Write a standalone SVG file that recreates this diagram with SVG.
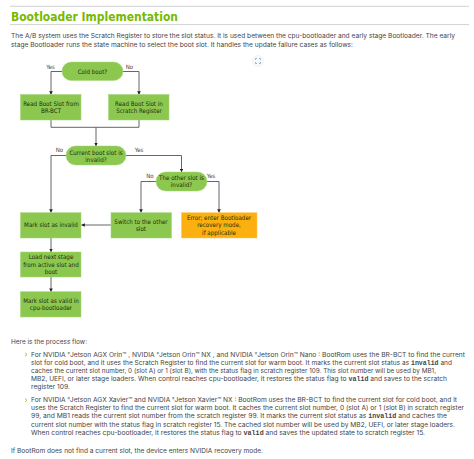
<svg xmlns="http://www.w3.org/2000/svg" width="474" height="459" viewBox="0 0 474 459">
<style>
.b{font-family:"Inter","Noto Sans","Liberation Sans",sans-serif;font-size:6.6px;fill:#444}
.m{font-family:"Liberation Mono","DejaVu Sans Mono",monospace;font-weight:700;font-size:6.6px}
.s{font-size:3.6px}
.n{font-family:"DejaVu Sans","Liberation Sans",sans-serif;font-stretch:condensed;font-size:6.2px;fill:#1c2e0c;text-anchor:middle}
.l{font-family:"DejaVu Sans","Liberation Sans",sans-serif;font-stretch:condensed;font-size:6px;fill:#444;text-anchor:middle}
.g{fill:#8cc850;stroke:#a4d678;stroke-width:.5}
.o{fill:#fbb00f;stroke:#fdc860;stroke-width:.5}
.c{fill:none;stroke:#555;stroke-width:.9}
</style>
<defs>
<marker id="a" viewBox="0 0 6 6" refX="5.5" refY="3" markerWidth="3.6" markerHeight="3.6" markerUnits="userSpaceOnUse" orient="auto"><path d="M0 0L6 3L0 6z" fill="#222"/></marker>
</defs>
<rect width="474" height="459" fill="#fff"/>
<path d="M10 6.3H469M10 24.6H469" stroke="#c6c6c6" stroke-width=".8" fill="none"/>
<text x="11" y="20.8" font-family="DejaVu Sans,Liberation Sans,sans-serif" font-weight="700" font-size="12" fill="#76b900" textLength="167" lengthAdjust="spacingAndGlyphs">Bootloader Implementation</text>
<text class="b" x="11" y="38" textLength="444" lengthAdjust="spacingAndGlyphs">The A/B system uses the Scratch Register to store the slot status. It is used between the cpu-bootloader and early stage Bootloader. The early</text>
<text class="b" x="11" y="47" textLength="342" lengthAdjust="spacingAndGlyphs">stage Bootloader runs the state machine to select the boot slot. It handles the update failure cases as follows:</text>

<g id="connectors">
<path class="c" marker-end="url(#a)" d="M62 71.5H51V94.5"/>
<path class="c" marker-end="url(#a)" d="M123 71.5H139V94.5"/>
<path class="c" d="M51 120V127.3H139V120"/>
<path class="c" marker-end="url(#a)" d="M96 127.3V146"/>
<path class="c" marker-end="url(#a)" d="M66 155.5H51V212.5"/>
<path class="c" marker-end="url(#a)" d="M126 155.5H181.5V172"/>
<path class="c" marker-end="url(#a)" d="M156 181.5H141V212.5"/>
<path class="c" marker-end="url(#a)" d="M207 181.5H219V212.5"/>
<path class="c" marker-end="url(#a)" d="M111 225H81.5"/>
<path class="c" marker-end="url(#a)" d="M51 238V252"/>
<path class="c" marker-end="url(#a)" d="M51 277V291.7"/>
<text class="l" x="50.500" y="68.500">Yes</text>
<text class="l" x="129.500" y="68.500">No</text>
<text class="l" x="59.500" y="152">No</text>
<text class="l" x="139" y="152">Yes</text>
<text class="l" x="150" y="178">No</text>
<text class="l" x="211" y="178">Yes</text>
</g>

<g id="cold-boot"><rect class="g" x="62" y="62" width="61" height="18.500" rx="9.250"/><text class="n" x="92.500" y="73.500">Cold boot?</text></g>
<g id="read-brbct"><rect class="g" x="20.500" y="94.500" width="60.500" height="25.500"/><text class="n" x="51" y="105.500">Read Boot Slot from</text><text class="n" x="51" y="113">BR-BCT</text></g>
<g id="read-scratch"><rect class="g" x="108.500" y="94.500" width="60.500" height="25.500"/><text class="n" x="139" y="105.500">Read Boot Slot in</text><text class="n" x="139" y="113">Scratch Register</text></g>
<g id="current-invalid"><rect class="g" x="66" y="146" width="60" height="19" rx="9.500"/><text class="n" x="96" y="154.500">Current boot slot is</text><text class="n" x="96" y="161.800">invalid?</text></g>
<g id="other-invalid"><rect class="g" x="156" y="172" width="51" height="19" rx="9.500"/><text class="n" x="181.500" y="179.700">The other slot is</text><text class="n" x="181.500" y="187.300">invalid?</text></g>
<g id="mark-invalid"><rect class="g" x="20.500" y="212.700" width="60.500" height="25.300"/><text class="n" x="51" y="227">Mark slot as invalid</text></g>
<g id="switch-slot"><rect class="g" x="111" y="212.700" width="60.500" height="25.300"/><text class="n" x="141" y="223.500">Switch to the other</text><text class="n" x="141" y="231">slot</text></g>
<g id="error"><rect class="o" x="181.500" y="212.700" width="75.500" height="25.300"/><text class="n" x="219" y="219.800">Error; enter Bootloader</text><text class="n" x="219" y="227">recovery mode,</text><text class="n" x="219" y="234.500">if applicable</text></g>
<g id="load-next"><rect class="g" x="20.500" y="252" width="60.500" height="25"/><text class="n" x="51" y="259.200">Load next stage</text><text class="n" x="51" y="266.500">from active slot and</text><text class="n" x="51" y="274">boot</text></g>
<g id="mark-valid"><rect class="g" x="20.500" y="291.700" width="60.500" height="25.300"/><text class="n" x="51" y="302.500">Mark slot as valid in</text><text class="n" x="51" y="310">cpu-bootloader</text></g>

<g fill="none" stroke="#7fa6c8" stroke-width=".8">
<circle cx="258" cy="61" r="5.500" stroke="#eef2f6" fill="#f7f9fb"/>
<path d="M255.500 60V58.500H257M259 58.500H260.500V60M260.500 62V63.500H259M257 63.500H255.500V62"/>
</g>

<text class="b" x="11" y="344" textLength="76" lengthAdjust="spacingAndGlyphs">Here is the process flow:</text>

<path d="M25 352.800L27 354.500L25 356.200M25 398.500L27 400.200L25 401.900" fill="none" stroke="#76b900" stroke-width=".7"/>
<text class="b" x="31" y="356.500" textLength="434" lengthAdjust="spacingAndGlyphs">For NVIDIA <tspan class="s" dy="-2">®</tspan><tspan dy="2">Jetson AGX Orin™ , NVIDIA </tspan><tspan class="s" dy="-2">®</tspan><tspan dy="2">Jetson Orin™ NX , and NVIDIA </tspan><tspan class="s" dy="-2">®</tspan><tspan dy="2">Jetson Orin™ Nano : BootRom uses the BR-BCT to find the current</tspan></text>
<text class="b" x="31" y="365" textLength="421" lengthAdjust="spacingAndGlyphs">slot for cold boot, and it uses the Scratch Register to find the current slot for warm boot. It marks the current slot status as <tspan class="m">invalid</tspan> and</text>
<text class="b" x="31" y="373" textLength="405" lengthAdjust="spacingAndGlyphs">caches the current slot number, 0 (slot A) or 1 (slot B), with the status flag in scratch register 109. This slot number will be used by MB1,</text>
<text class="b" x="31" y="381" textLength="416" lengthAdjust="spacingAndGlyphs">MB2, UEFI, or later stage loaders. When control reaches cpu-bootloader, it restores the status flag to <tspan class="m">valid</tspan> and saves to the scratch</text>
<text class="b" x="31" y="389.300" textLength="39" lengthAdjust="spacingAndGlyphs">register 109.</text>

<text class="b" x="31" y="402.300" textLength="426" lengthAdjust="spacingAndGlyphs">For NVIDIA <tspan class="s" dy="-2">®</tspan><tspan dy="2">Jetson AGX Xavier™ and NVIDIA </tspan><tspan class="s" dy="-2">®</tspan><tspan dy="2">Jetson Xavier™ NX : BootRom uses the BR-BCT to find the current slot for cold boot, and it</tspan></text>
<text class="b" x="31" y="410.300" textLength="433" lengthAdjust="spacingAndGlyphs">uses the Scratch Register to find the current slot for warm boot. It caches the current slot number, 0 (slot A) or 1 (slot B) in scratch register</text>
<text class="b" x="31" y="418.300" textLength="416" lengthAdjust="spacingAndGlyphs">99, and MB1 reads the current slot number from the scratch register 99. It marks the current slot status as <tspan class="m">invalid</tspan> and caches the</text>
<text class="b" x="31" y="426.600" textLength="424" lengthAdjust="spacingAndGlyphs">current slot number with the status flag in scratch register 15. The cached slot number will be used by MB2, UEFI, or later stage loaders.</text>
<text class="b" x="31" y="434.600" textLength="394" lengthAdjust="spacingAndGlyphs">When control reaches cpu-bootloader, it restores the status flag to <tspan class="m">valid</tspan> and saves the updated state to scratch register 15.</text>
<text class="b" x="11" y="453.300" textLength="252" lengthAdjust="spacingAndGlyphs">If BootRom does not find a current slot, the device enters NVIDIA recovery mode.</text>
</svg>
